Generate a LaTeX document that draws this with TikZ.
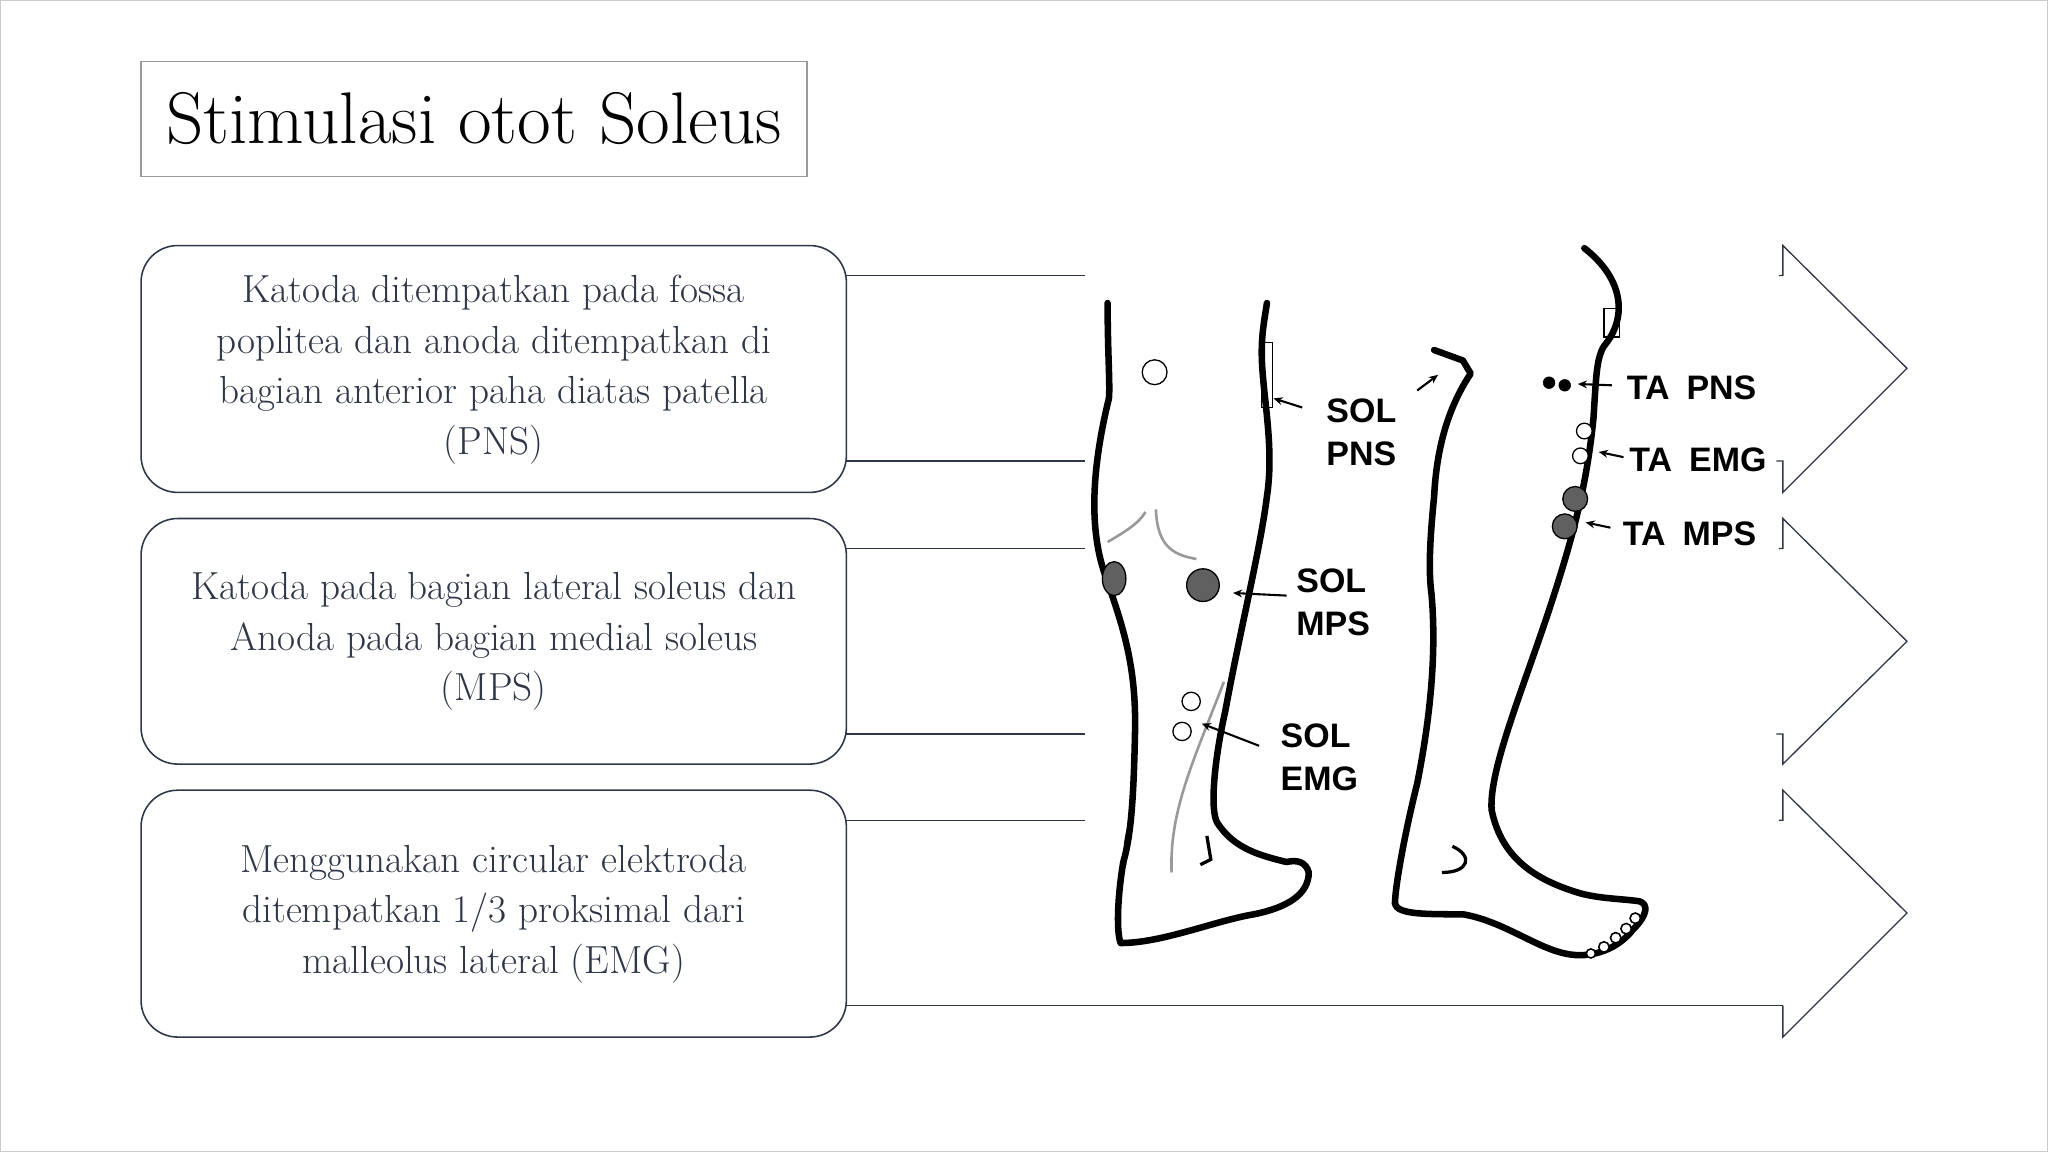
\documentclass[tikz,border=0pt]{standalone}
\usepackage{fontspec}
\newfontfamily\lab{Liberation Sans}
\usetikzlibrary{arrows.meta}
\definecolor{slate}{HTML}{2F3747}
\definecolor{frame}{HTML}{9A9A9A}
\begin{document}
\begin{tikzpicture}[x=1pt,y=-1pt,
  box/.style={draw=slate,line width=1.2pt,rounded corners=28pt},
  btxt/.style={text=slate,align=center,font=\fontsize{30}{39}\selectfont},
  arr/.style={draw=slate,line width=1pt},
  leg/.style={line width=5pt,line cap=round,line join=round},
  gl/.style={draw=gray!80,line width=2pt},
  lbl/.style={font=\lab\bfseries\fontsize{26}{33}\selectfont,align=left,anchor=west},
  pt/.style={-{Stealth[length=7pt,width=6pt]},line width=1.6pt}]
\useasboundingbox (0,0) rectangle (1568,882);
\draw[gray!40,line width=0.8pt] (0.5,0.5) rectangle (1567.5,881.5);
% title
\node[draw=frame,line width=1.2pt,minimum width=510pt,minimum height=88pt,inner sep=0pt,
  font=\fontsize{56}{60}\selectfont,text=black] (title) at (363,91) {Stimulasi otot Soleus};
% boxes
\draw[box] (108,188) rectangle (648,377);
\draw[box] (108,397) rectangle (648,585);
\draw[box] (108,605) rectangle (648,794);
\node[btxt] (t1) at (378,283) {Katoda ditempatkan pada fossa\\poplitea dan anoda ditempatkan di\\bagian anterior paha diatas patella\\(PNS)};
\node[btxt] (t2) at (378,491) {Katoda pada bagian lateral soleus dan\\Anoda pada bagian medial soleus\\(MPS)};
\node[btxt] (t3) at (378,700) {Menggunakan circular elektroda\\ditempatkan 1/3 proksimal dari\\malleolus lateral (EMG)};
% arrows
\coordinate (a1) at (648,211); \coordinate (b1) at (831,211);
\coordinate (a2) at (648,353); \coordinate (b2) at (831,353);
\draw[arr] (a1)--(b1); \draw[arr] (a2)--(b2);
\draw[arr] (648,420)--(831,420); \draw[arr] (648,562)--(831,562);
\draw[arr] (648,628)--(831,628); \draw[arr] (648,770)--(1365,770);
\draw[arr] (1362,211)--(1365,211)--(1365,188)--(1460,282)--(1365,377)--(1365,353)--(1360,353);
\draw[arr] (1362,420)--(1365,420)--(1365,397)--(1460,491)--(1365,585)--(1365,562)--(1360,562);
\draw[arr] (1362,628)--(1365,628)--(1365,605)--(1460,699)--(1365,794)--(1365,770);
% left leg (posterior)
\draw[leg] (848,232) .. controls (848,270) and (850,295) .. (849,305)
  .. controls (838,350) and (832,400) .. (846,440)
  .. controls (860,480) and (870,510) .. (869,560)
  .. controls (868,610) and (866,640) .. (860,660)
  .. controls (855,690) and (855,715) .. (858,722)
  .. controls (890,722) and (930,705) .. (960,700)
  .. controls (985,695) and (1002,685) .. (1002,668)
  .. controls (1000,660) and (993,658) .. (985,660)
  .. controls (965,655) and (945,650) .. (932,630)
  .. controls (926,620) and (930,580) .. (938,545)
  .. controls (950,480) and (965,420) .. (970,380)
  .. controls (976,340) and (966,300) .. (966,270)
  .. controls (966,255) and (968,245) .. (970,232);
\draw[gl] (848,415) .. controls (865,405) and (872,400) .. (877,392);
\draw[gl] (885,390) .. controls (886,420) and (900,425) .. (916,428);
\draw[gl] (937,522) .. controls (915,580) and (895,620) .. (897,668);
\draw[line width=1.2pt] (867,625) .. controls (860,640) and (860,655) .. (862,662);
\draw[line width=2.5pt] (924,640)--(927,658)--(919,662);
\draw[line width=1pt] (966,262) rectangle (974,312);
\draw[fill=white,line width=1pt] (884,285) circle (9.5);
\draw[fill=gray!75!black,line width=1pt] (853,443) ellipse (9 and 13);
\draw[fill=gray!75!black,line width=1pt] (921,448) circle (12.5);
\draw[fill=white,line width=1pt] (912,537) circle (7);
\draw[fill=white,line width=1pt] (905,560) circle (7);
\node[lbl] (sp) at (1012,331) {SOL\\PNS};
\node[lbl] (sm) at (989,461) {SOL\\MPS};
\node[lbl] (se) at (977,580) {SOL\\EMG};
\coordinate (sp1) at (975,305); \coordinate (sm1) at (944,454); \coordinate (se1) at (920,554);
\draw[pt] (997,312)--(sp1); \draw[pt] (985,456)--(sm1); \draw[pt] (964,571)--(se1);
% right leg (side)
\draw[leg] (1098,268) -- (1120,276) -- (1126,286)
  .. controls (1110,310) and (1100,340) .. (1098,380)
  .. controls (1094,420) and (1094,440) .. (1096,455)
  .. controls (1100,500) and (1095,550) .. (1085,600)
  .. controls (1075,640) and (1068,680) .. (1068,692)
  .. controls (1070,700) and (1090,700) .. (1120,700)
  .. controls (1150,705) and (1175,725) .. (1198,730)
  .. controls (1220,735) and (1240,725) .. (1250,712)
  .. controls (1262,700) and (1262,692) .. (1255,690)
  .. controls (1240,688) and (1225,688) .. (1210,684)
  .. controls (1180,675) and (1150,660) .. (1142,620)
  .. controls (1140,590) and (1165,530) .. (1185,470)
  .. controls (1205,410) and (1215,370) .. (1220,320)
  .. controls (1222,290) and (1222,275) .. (1228,265)
  .. controls (1245,245) and (1245,215) .. (1213,190);
\draw[line width=1pt] (1228,236) rectangle (1240,258);
\draw[line width=1.2pt,fill=white] (1218,730) circle (3.5) (1228,725) circle (4) (1237,718) circle (4) (1245,711) circle (4) (1252,703) circle (4);
\draw[line width=2.5pt] (1112,648) .. controls (1128,655) and (1125,668) .. (1104,668);
\draw[fill=black] (1186,293) circle (4.5) (1198,295) circle (4.5);
\draw[fill=white,line width=1pt] (1213,330) circle (6) (1210,349) circle (6);
\draw[fill=gray!75!black,line width=1pt] (1206,382) circle (9.5) (1198,403) circle (9.5);
\node[lbl] (tp) at (1242,297) {TA\enspace PNS};
\node[lbl] (te) at (1244,352) {TA\enspace EMG};
\node[lbl] (tm) at (1239,409) {TA\enspace MPS};
\coordinate (tp1) at (1208,294); \coordinate (te1) at (1224,346); \coordinate (tm1) at (1214,400);
\coordinate (kp1) at (1101,287);
\draw[pt] (1234,295)--(tp1); \draw[pt] (1243,350)--(te1); \draw[pt] (1233,404)--(tm1);
\draw[pt] (1085,299)--(kp1);
\end{tikzpicture}
\end{document}
